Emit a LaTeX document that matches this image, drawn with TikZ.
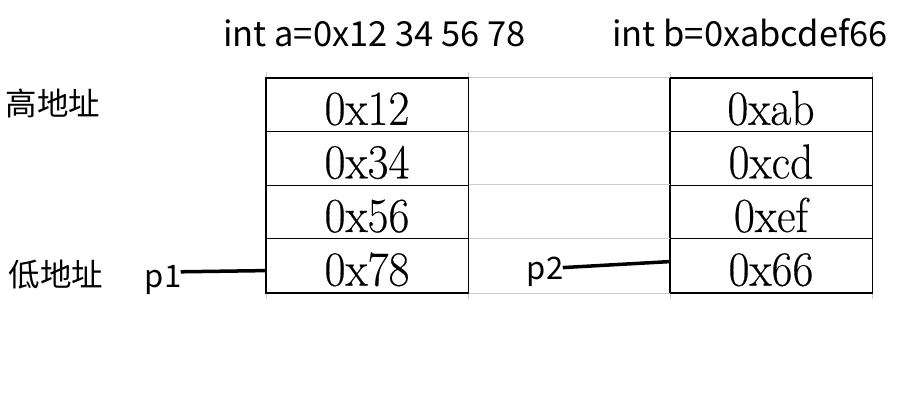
\documentclass[tikz,border=0pt]{standalone}
\usepackage{fontspec}
\newfontfamily\cjkfont{Noto Sans CJK SC}
\newfontfamily\cellserif{Latin Modern Roman}[FakeStretch=0.93, FakeBold=0.3]
\newcommand{\cellfont}{\cellserif\fontsize{49}{51}\selectfont}
\usetikzlibrary{shapes.geometric, arrows}
\tikzstyle{cell} = [rectangle, draw=black, line width=1pt, minimum width=202pt, minimum height=53.6pt, inner sep=0pt, text height=40pt, text depth=0pt, font=\cellfont]
\tikzstyle{addr} = [font=\cjkfont\fontsize{31.5}{33}\selectfont]
\tikzstyle{title} = [anchor=base, font=\cjkfont\fontsize{34.5}{36}\selectfont]
\tikzstyle{ptrname} = [anchor=base, font=\cjkfont\fontsize{31}{33}\selectfont]
\tikzstyle{ptrline} = [line width=3.5pt]
\tikzstyle{grid} = [draw=black!20, line width=0.8pt]

\begin{document}
\begin{tikzpicture}[x=1pt, y=-1pt, node distance=53.6pt]
\useasboundingbox (0,0) rectangle (922,402);

%% GRID
\foreach \x in {266,468,670,872} \draw [grid] (\x,72) -- (\x,299);

%% NODES

\node (ta) [title] at (374.5,46) {int a=0x12 34 56 78};
\node (tb) [title] at (750,46) {int b=0xabcdef66};
\node (high) [addr] at (53,103) {高地址};
\node (low) [addr] at (56,275) {低地址};

\node (a1) [cell] at (367,104.8) {0x12};
\node (a2) [cell, below of=a1] {0x34};
\node (a3) [cell, below of=a2] {0x56};
\node (a4) [cell, below of=a3] {0x78};

\node (b1) [cell, right of=a1, node distance=404pt] {0xab};
\node (b2) [cell, below of=b1] {0xcd};
\node (b3) [cell, below of=b2] {0xef};
\node (b4) [cell, below of=b3] {0x66};

\node (p1) [ptrname] at (163,287) {p1};
\node (p2) [ptrname] at (545,279) {p2};

\draw [line width=1.6pt] (a1.north west) rectangle (a4.south east);
\draw [line width=1.6pt] (b1.north west) rectangle (b4.south east);
\foreach \i in {1,...,4} \draw [grid] (a\i.north east) -- (b\i.north west);
\draw [grid] (a4.south east) -- (b4.south west);

%% ARROWS

\draw [ptrline] ([xshift=-4pt, yshift=7.7pt]p1.east) -- ([yshift=-5pt]a4.west);
\draw [ptrline] ([xshift=-4pt, yshift=3.7pt]p2.east) -- ([yshift=4pt]b4.west);

\end{tikzpicture}
\end{document}
